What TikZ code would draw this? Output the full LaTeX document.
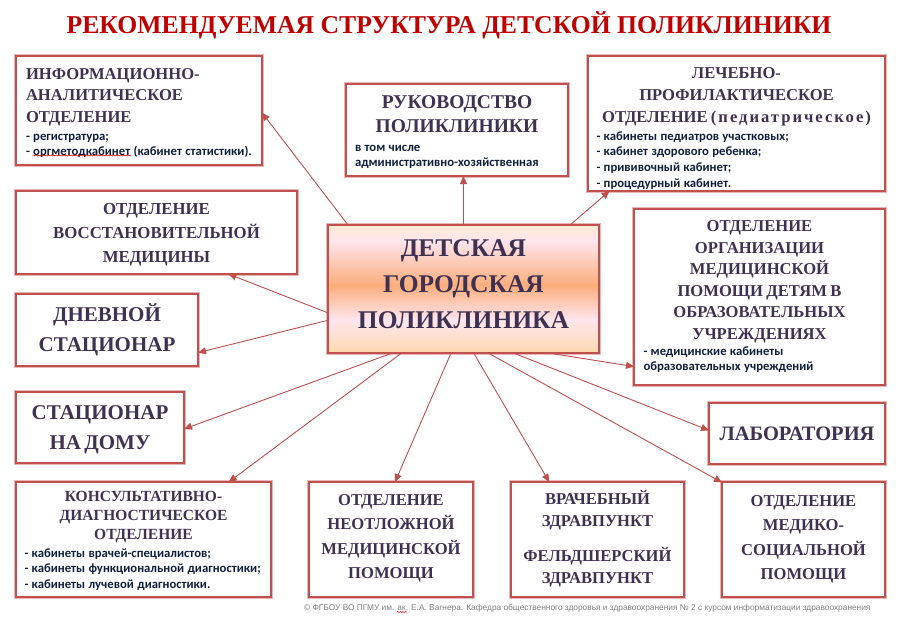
\documentclass[tikz,border=0pt]{standalone}
\usepackage{fontspec}
\setmainfont{Liberation Serif}
\newfontfamily\smallf{Carlito}
\newfontfamily\footf{Liberation Sans}
\usetikzlibrary{arrows.meta,decorations.pathmorphing}
\definecolor{boxred}{HTML}{C0504D}
\definecolor{glowred}{HTML}{E6B9B8}
\definecolor{headc}{HTML}{3F3151}
\definecolor{titlec}{HTML}{C00000}
\definecolor{smallc}{HTML}{0F1F3D}
\definecolor{sa}{HTML}{FDD9AE}
\definecolor{sb}{HTML}{FFE6EE}
\definecolor{sc}{HTML}{FBAE7C}
\definecolor{sd}{HTML}{FDEBD0}
\pgfdeclareverticalshading{centershade}{100bp}{
 color(0bp)=(sa);
 color(25bp)=(sa);
 color(38bp)=(sb);
 color(51.5bp)=(sc);
 color(69bp)=(sb);
 color(75bp)=(sd);
 color(100bp)=(sd)}
\newcommand{\hd}[2][16.6]{\bfseries\color{headc}\fontsize{#1}{#2}\selectfont}
\newcommand{\sm}[2]{\par\vspace{#1pt}\smallf\bfseries\color{smallc}\fontsize{12.7}{#2}\selectfont\raggedright}
\newcommand{\botpad}[1]{\par\vspace*{#1pt}}
\tikzset{
 x=1pt,y=-1pt,
 boxn/.style={draw=boxred,line width=2.6pt,fill=white,inner sep=0pt,outer sep=0pt,
   preaction={draw=glowred,line width=4pt},anchor=center},
 conn/.style={draw=boxred,line width=0.9pt,-{Triangle[length=8pt,width=7pt]}},
 squig/.style={draw=red!85!black,line width=0.5pt,decorate,decoration={snake,amplitude=0.6pt,segment length=2.5pt}}
}
\begin{document}
\begin{tikzpicture}
\useasboundingbox (0,0) rectangle (902,621);
\fill[white] (0,0) rectangle (902,621);
\node[font=\bfseries\fontsize{25.7}{27}\selectfont,text=titlec,inner sep=0pt] (title) at (449,25) {РЕКОМЕНДУЕМАЯ СТРУКТУРА ДЕТСКОЙ ПОЛИКЛИНИКИ};

\node[boxn,minimum width=246pt,minimum height=109pt,text width=226pt] (info) at (139,110.5)
 {\raggedright\hd{21.5}ИНФОРМАЦИОННО-\\АНАЛИТИЧЕСКОЕ\\ОТДЕЛЕНИЕ\sm{3}{15}
  - регистратура;\\- оргметодкабинет (кабинет статистики).\botpad{-5}};
\node[boxn,minimum width=222pt,minimum height=92pt,text width=204pt] (ruk) at (457,130)
 {{\centering\hd[19.5]{24}РУКОВОДСТВО\\ПОЛИКЛИНИКИ\par}\sm{4}{15}
  в том числе\\административно-хозяйственная\botpad{-4}};
\node[boxn,minimum width=297pt,minimum height=135pt,text width=280pt] (lech) at (736.5,123.5)
 {{\centering\hd{22}ЛЕЧЕБНО-\\ПРОФИЛАКТИЧЕСКОЕ\\ОТДЕЛЕНИЕ {\addfontfeatures{LetterSpace=12}(педиатрическое)}\par}\sm{2}{15.7}
  - кабинеты педиатров участковых;\\- кабинет здорового ребенка;\\- прививочный кабинет;\\- процедурный кабинет.\botpad{-10}};
\node[boxn,minimum width=281pt,minimum height=83pt,text width=270pt] (vost) at (156.5,232.5)
 {\centering\hd[16.8]{24}ОТДЕЛЕНИЕ\\ВОССТАНОВИТЕЛЬНОЙ\\МЕДИЦИНЫ\botpad{-4}};
\node[draw=boxred,line width=2.6pt,preaction={draw=glowred,line width=4pt},
  shading=centershade,minimum width=271pt,minimum height=128pt,inner sep=0pt,outer sep=0pt,text width=265pt] (c) at (463.5,289)
 {\centering\hd[25.5]{36}ДЕТСКАЯ\\ГОРОДСКАЯ\\ПОЛИКЛИНИКА\botpad{10}};
\node[boxn,minimum width=251pt,minimum height=176pt,text width=232pt] (org) at (759.5,297)
 {{\centering\hd{21.5}ОТДЕЛЕНИЕ\\ОРГАНИЗАЦИИ\\МЕДИЦИНСКОЙ\\ПОМОЩИ ДЕТЯМ В\\ОБРАЗОВАТЕЛЬНЫХ\\УЧРЕЖДЕНИЯХ\par}\sm{1.5}{15}
  - медицинские кабинеты\\образовательных учреждений\par};
\node[boxn,minimum width=182pt,minimum height=72pt,text width=176pt] (dnev) at (107,330)
 {\centering\hd[21]{30}ДНЕВНОЙ\\СТАЦИОНАР\par};
\node[boxn,minimum width=168pt,minimum height=71pt,text width=162pt] (stac) at (100,427.5)
 {\centering\hd[21]{30}СТАЦИОНАР\\НА ДОМУ\botpad{-4}};
\node[boxn,minimum width=176pt,minimum height=61pt,text width=170pt] (lab) at (797,433.5)
 {\centering\hd[20.5]{22}ЛАБОРАТОРИЯ\botpad{-4}};
\node[boxn,minimum width=255pt,minimum height=115pt,text width=238pt] (kons) at (143.5,539.5)
 {{\centering\hd[15.5]{19}КОНСУЛЬТАТИВНО-\\ДИАГНОСТИЧЕСКОЕ\\ОТДЕЛЕНИЕ\par}\sm{2}{15.5}
  - кабинеты врачей-специалистов;\\- кабинеты функциональной диагностики;\\- кабинеты лучевой диагностики.\botpad{-3}};
\node[boxn,minimum width=164pt,minimum height=115pt,text width=160pt] (neot) at (391,539.5)
 {\centering\hd{24.5}ОТДЕЛЕНИЕ\\НЕОТЛОЖНОЙ\\МЕДИЦИНСКОЙ\\ПОМОЩИ\botpad{2}};
\node[boxn,minimum width=173pt,minimum height=115pt,text width=165pt] (vrach) at (597.5,539.5)
 {\centering\hd{21.5}ВРАЧЕБНЫЙ\\ЗДРАВПУНКТ\\[14pt]ФЕЛЬДШЕРСКИЙ\\ЗДРАВПУНКТ\botpad{2}};
\node[boxn,minimum width=163pt,minimum height=115pt,text width=158pt] (med) at (803.5,539.5)
 {\centering\hd{24.5}ОТДЕЛЕНИЕ\\МЕДИКО-\\СОЦИАЛЬНОЙ\\ПОМОЩИ\par};

\node[font=\footf\fontsize{8.33}{9}\selectfont,text=gray,inner sep=0pt,anchor=west] (foot) at (304,608)
 {© ФГБОУ ВО ПГМУ им. ак. Е.А. Вагнера. Кафедра общественного здоровья и здравоохранения № 2 с курсом информатизации здравоохранения};

\draw[squig] (33,155.5) -- (131,155.5);
\draw[squig] (397,612) -- (407,612);

\draw[conn] (c.151.3) -- (info.-1);
\draw[conn] (c.north) -- (ruk.-82);
\draw[conn] (c.31.6) -- (lech.208.8);
\draw[conn] (c.190.4) -- (vost.-30.4);
\draw[conn] (c.193.7) -- (dnev.-14);
\draw[conn] (c.222.2) -- (stac.-1.7);
\draw[conn] (c.226.1) -- (kons.34.7);
\draw[conn] (c.259.8) -- (neot.86);
\draw[conn] (c.-81.6) -- (vrach.130.8);
\draw[conn] (c.-69) -- (med.145);
\draw[conn] (c.-52.3) -- (lab.178.4);
\draw[conn] (c.-37.5) -- (org.209.6);
\end{tikzpicture}
\end{document}
